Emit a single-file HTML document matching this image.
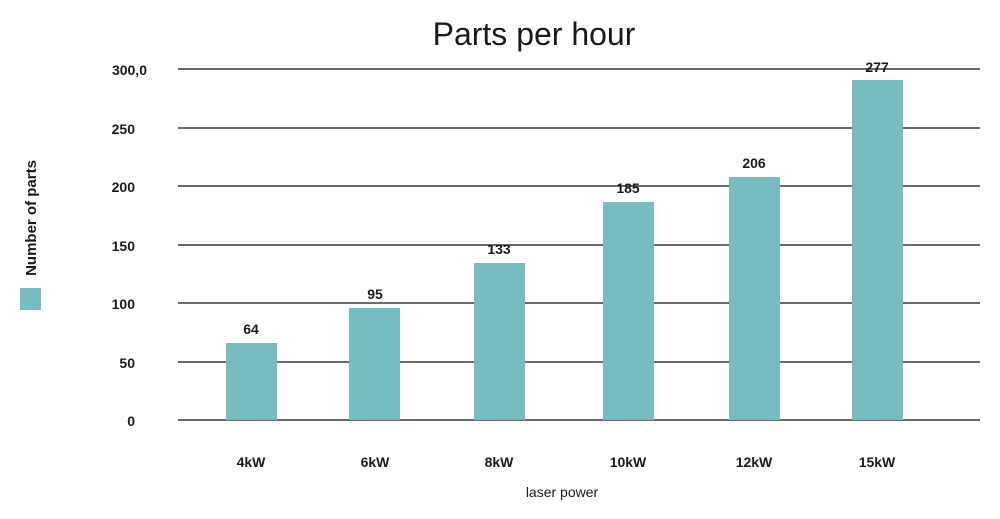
<!DOCTYPE html>
<html><head><style>body{margin:0;background:#fff}svg{display:block}text{font-family:"Liberation Sans",sans-serif;fill:#1a1a1a}</style></head>
<body>
<svg width="1000" height="519" viewBox="0 0 1000 519">
<text x="534" y="45" font-size="32" text-anchor="middle">Parts per hour</text>
<g stroke="#111" stroke-width="1.3">
<line x1="178" x2="980" y1="69" y2="69"/><line x1="178" x2="980" y1="128" y2="128"/>
<line x1="178" x2="980" y1="186" y2="186"/><line x1="178" x2="980" y1="245" y2="245"/>
<line x1="178" x2="980" y1="303" y2="303"/><line x1="178" x2="980" y1="362" y2="362"/>
<line x1="178" x2="980" y1="420" y2="420"/>
</g>
<g font-size="14" font-weight="bold" text-anchor="end">
<text x="147" y="75">300,0</text><text x="135" y="134">250</text><text x="135" y="192">200</text>
<text x="135" y="251">150</text><text x="135" y="309">100</text><text x="135" y="368">50</text><text x="135" y="426">0</text>
</g>
<g fill="#77bcc0">
<rect x="226" y="343" width="51" height="77"/><rect x="349" y="308" width="51" height="112"/>
<rect x="474" y="263" width="51" height="157"/><rect x="603" y="202" width="51" height="218"/>
<rect x="729" y="177" width="51" height="243"/><rect x="852" y="80" width="51" height="340"/>
<rect x="20" y="288" width="21" height="22"/>
</g>
<g font-size="14" font-weight="bold" text-anchor="middle">
<text x="251" y="334">64</text><text x="375" y="299">95</text><text x="499" y="254">133</text>
<text x="628" y="193">185</text><text x="754" y="168">206</text><text x="877" y="72">277</text>
<text x="251" y="467">4kW</text><text x="375" y="467">6kW</text><text x="499" y="467">8kW</text>
<text x="628" y="467">10kW</text><text x="754" y="467">12kW</text><text x="877" y="467">15kW</text>
</g>
<text x="562" y="497" font-size="14" text-anchor="middle">laser power</text>
<text transform="translate(36,218) rotate(-90)" font-size="15" font-weight="bold" text-anchor="middle">Number of parts</text>
</svg>
</body></html>
